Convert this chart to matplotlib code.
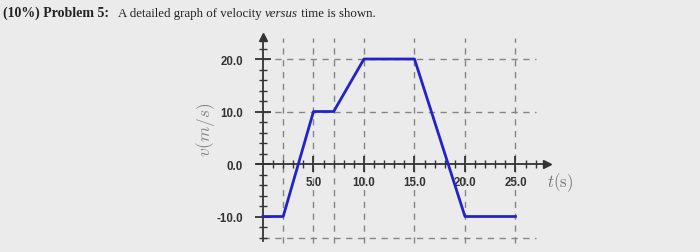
import matplotlib.pyplot as plt
from matplotlib.ticker import FixedLocator, FormatStrFormatter

# velocity vs time data
t = [0, 2, 5, 7, 10, 15, 20, 25]
v = [-10, -10, 10, 10, 20, 20, -10, -10]

t_grid = [2, 5, 7, 10, 15, 20, 25]
v_grid = [20, 10, -14]
x_ticks = [5, 10, 15, 20, 25]
x_minor = list(range(1, 28))
y_ticks = [-10, 0, 10, 20]
y_minor = list(range(-14, 24, 2))

fig = plt.figure(figsize=(7, 2.53), dpi=100)
fig.patch.set_facecolor('#ebebeb')
ax = fig.add_axes([0, 0, 1, 1])
ax.set_facecolor('none')
ax.set_xlim(-26.04, 43.27)
ax.set_ylim(-16.76, 31.43)

# dashed guide lines
for tg in t_grid:
    ax.plot([tg, tg], [-15, 24], color='#858585', lw=1, ls=(0, (4.5, 4)), zorder=1)
for vg in v_grid:
    ax.plot([0, 27], [vg, vg], color='#858585', lw=1, ls=(0, (4.5, 4)), zorder=1)

ax.plot(t, v, color='#2222c8', lw=2, zorder=3)

# axes through the origin
for s in ['top', 'right']:
    ax.spines[s].set_visible(False)
ax.spines['left'].set_position(('data', 0))
ax.spines['bottom'].set_position(('data', 0))
ax.spines['left'].set_bounds(-14.6, 24)
ax.spines['bottom'].set_bounds(-0.6, 27.8)
for s in ['left', 'bottom']:
    ax.spines[s].set_color('#333333')
    ax.spines[s].set_linewidth(1.3)
ax.plot(0, 24.2, marker='^', color='#333333', ms=6, clip_on=False)
ax.plot(28.1, 0, marker='>', color='#333333', ms=6, clip_on=False)

ax.xaxis.set_major_locator(FixedLocator(x_ticks))
ax.xaxis.set_minor_locator(FixedLocator(x_minor))
ax.yaxis.set_major_locator(FixedLocator(y_ticks))
ax.yaxis.set_minor_locator(FixedLocator(y_minor))
ax.xaxis.set_major_formatter(FormatStrFormatter('%.1f'))
ax.yaxis.set_major_formatter(FormatStrFormatter('%.1f'))
ax.tick_params(which='major', direction='inout', length=11, width=1.3, color='#333333')
ax.tick_params(which='minor', direction='inout', length=6, width=1, color='#333333')
ax.tick_params(axis='x', which='major', pad=3)
ax.tick_params(axis='y', which='major', pad=9)
for lab in ax.get_xticklabels() + ax.get_yticklabels():
    lab.set_fontfamily('Liberation Sans')
    lab.set_fontweight('bold')
    lab.set_fontsize(8.3)
    lab.set_color('#333333')

plt.rcParams['mathtext.fontset'] = 'cm'
ax.text(-5.7, 6.7, r'$v(m/s)$', rotation=90, fontsize=12.5, color='#858585',
        ha='center', va='center')
ax.text(28.1, -3.4, r'$t(\mathrm{s})$', fontsize=12, color='#777777',
        ha='left', va='center')

# heading
kw = dict(fontfamily='Liberation Serif', color='#222222')
t1 = fig.text(3 / 700, 1 - 17 / 253, '(10%) Problem 5:', fontweight='bold',
              fontsize=10, **kw)
t2 = ax.annotate('   A detailed graph of velocity ', xy=(1, 0), xycoords=t1,
                 ha='left', va='bottom', fontsize=9.3, **kw)
t3 = ax.annotate('versus', xy=(1, 0), xycoords=t2, ha='left', va='bottom',
                 fontstyle='italic', fontsize=9.3, **kw)
ax.annotate(' time is shown.', xy=(1, 0), xycoords=t3, ha='left', va='bottom',
            fontsize=9.3, **kw)

fig.savefig('out.png', dpi=100, facecolor=fig.get_facecolor())
